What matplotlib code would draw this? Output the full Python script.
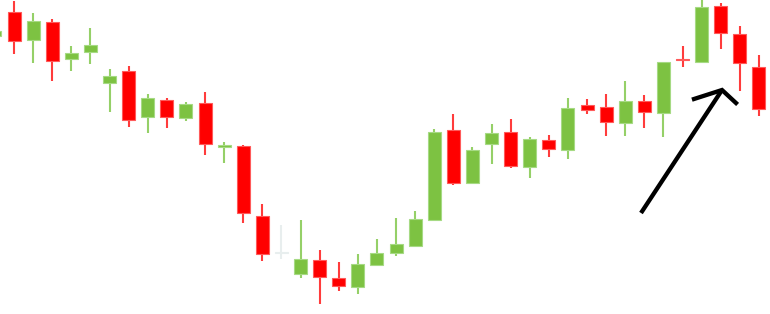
import matplotlib
matplotlib.use("Agg")
import matplotlib.pyplot as plt
from matplotlib.patches import Rectangle

# price levels for each candle (higher = up)
opens = [278, 302, 274, 292, 255, 262, 231, 243, 197, 214, 196, 211, 167, 168, 98, 61,
         40, 54, 36, 27, 49, 61, 68, 94, 184, 131, 170, 182, 147, 174, 164, 209,
         207, 191, 213, 201, 255, 252, 308, 280, 247]
closes = [283, 273, 293, 253, 261, 269, 238, 194, 216, 197, 210, 170, 169, 101, 60, 61,
          55, 37, 28, 50, 61, 70, 95, 182, 131, 164, 181, 148, 175, 165, 206, 204,
          192, 213, 202, 252, 254, 307, 281, 251, 205]
highs = [285, 313, 301, 295, 268, 286, 245, 248, 220, 216, 212, 222, 172, 169, 110, 89,
         94, 64, 52, 60, 75, 96, 103, 185, 200, 167, 190, 195, 177, 179, 216, 215,
         220, 233, 219, 252, 268, 314, 311, 288, 259]
lows = [277, 260, 251, 233, 243, 250, 202, 187, 181, 186, 193, 159, 151, 91, 53, 55,
        36, 10, 23, 20, 48, 58, 68, 93, 129, 130, 150, 146, 136, 157, 155, 200,
        178, 178, 186, 177, 247, 252, 265, 223, 198]
neutral = [15]  # faint doji

green = "#7dc242"
green_edge = "#a6da84"
red = "#ff0000"
red_edge = "#ff5a5a"
gray = "#e8eeee"

fig = plt.figure(figsize=(7.7, 3.14), dpi=100)
ax = fig.add_axes([0, 0, 1, 1])
ax.set_xlim(0.262, 40.58)
ax.set_ylim(0, 314)
ax.axis("off")

w = 0.68
for i in range(len(opens)):
    o, c, h, l = opens[i], closes[i], highs[i], lows[i]
    if i in neutral:
        col, ec, wc = gray, gray, gray
    elif c >= o:
        col, ec, wc = green, green_edge, "#95d068"
    else:
        col, ec, wc = red, red_edge, "#ff3c3c"
    ax.plot([i, i], [l, h], color=wc, lw=1.5, solid_capstyle="butt", zorder=1)
    bottom = min(o, c)
    height = max(abs(c - o), 1.5)
    ax.add_patch(Rectangle((i - w / 2, bottom), w, height, facecolor=col,
                           edgecolor=ec, lw=0.8, zorder=2))

# hand-drawn style arrow (axes fraction)
shaft_x = [641 / 770, 722 / 770]
shaft_y = [1 - 213 / 314, 1 - 90 / 314]
head_x = [694 / 770, 722 / 770, 736 / 770]
head_y = [1 - 99 / 314, 1 - 90 / 314, 1 - 103 / 314]
ax.plot(shaft_x, shaft_y, color="black", lw=3.1, transform=ax.transAxes,
        solid_capstyle="butt", zorder=3)
ax.plot(head_x, head_y, color="black", lw=3.1, transform=ax.transAxes,
        solid_joinstyle="miter", zorder=3)

fig.savefig("out.png", dpi=100, facecolor="white")
